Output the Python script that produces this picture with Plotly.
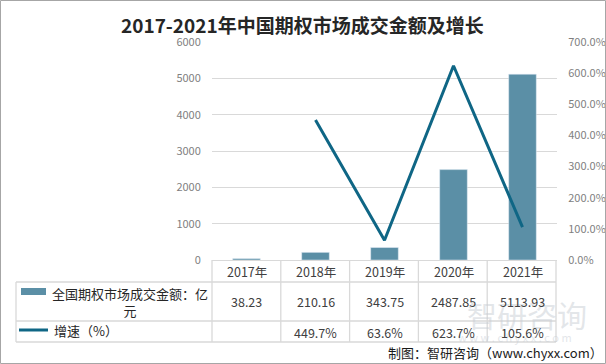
import plotly.graph_objects as go

# ---- data ----
years = ["2017年", "2018年", "2019年", "2020年", "2021年"]
amount = [38.23, 210.16, 343.75, 2487.85, 5113.93]
growth = [None, 449.7, 63.6, 623.7, 105.6]
bar_name = "全国期权市场成交金额：亿元"
line_name = "增速（%）"
title = "2017-2021年中国期权市场成交金额及增长"
source = "制图：智研咨询（www.chyxx.com）"

W, H = 606, 364
L, R, T, B = 212, 557, 42, 260
BAR_C = "#5b8fa6"
LINE_C = "#0f6685"
GRID_C = "#d9d9d9"
TXT_C = "#404040"
FONT = "Noto Sans CJK SC"


def px(X):
    return (X - L) / (R - L)


def py(Y):
    return (B - Y) / (B - T)


fig = go.Figure()
fig.add_trace(go.Bar(x=years, y=amount, name=bar_name, marker_color=BAR_C,
                     width=0.4, yaxis="y"))
fig.add_trace(go.Scatter(x=years, y=growth, name=line_name, mode="lines",
                         line=dict(color=LINE_C, width=3), yaxis="y2",
                         connectgaps=False))

shapes = []
annotations = []


def ann(text, X, Y, size, color, xanchor="center", xref="paper", font=FONT, align="center"):
    annotations.append(dict(text=text, x=(px(X) if xref == "paper" else X), xref=xref,
                            y=py(Y), yref="paper", xanchor=xanchor, yanchor="middle",
                            showarrow=False, align=align,
                            font=dict(family=font, size=size, color=color)))


# watermark
ann("智研咨询", 527, 314, 30, "rgba(200,205,212,0.5)")
ann("w w w . c h y x x . c o m", 515, 337, 11, "rgba(200,205,212,0.5)")


# table lines
def hline(Y, x0, x1):
    shapes.append(dict(type="line", xref="paper", yref="paper", x0=px(x0), x1=px(x1),
                       y0=py(Y), y1=py(Y), line=dict(color=GRID_C, width=1.3), layer="above"))


def vline(X, y0, y1):
    shapes.append(dict(type="line", xref="paper", yref="paper", x0=px(X), x1=px(X),
                       y0=py(y0), y1=py(y1), line=dict(color=GRID_C, width=1.3), layer="above"))


for Y in (282, 321, 342):
    hline(Y, 16, 556)
vline(16, 282, 342)
n = len(years)
for i in range(n + 1):
    X = L + (R - 1 - L) * i / n
    vline(X, 260, 342)

# table text
for i, yr in enumerate(years):
    ann(yr, i, 271, 12.5, TXT_C, xref="x")
    ann(f"{amount[i]:.2f}", i, 301, 12.5, TXT_C, xref="x")
    if growth[i] is not None:
        ann(f"{growth[i]:.1f}%", i, 332, 12.5, TXT_C, xref="x")

# legend cells
shapes.append(dict(type="rect", xref="paper", yref="paper", x0=px(21), x1=px(46), y0=py(288), y1=py(295),
                   fillcolor=BAR_C, line=dict(width=0), layer="above"))
shapes.append(dict(type="line", xref="paper", yref="paper", x0=px(19), x1=px(48), y0=py(330), y1=py(330),
                   line=dict(color=LINE_C, width=3), layer="above"))
ann(bar_name[:-1] + "<br>" + bar_name[-1], 129.5, 302, 13, "#262626")
ann(line_name, 52, 330, 13, "#262626", xanchor="left")

# title & source
ann(f"<b>{title}</b>", 302, 25, 19, "#262626")
ann(source, 605, 352, 13, "#1a1a1a", xanchor="right")

# outer border
shapes.append(dict(type="rect", xref="paper", yref="paper", x0=px(0.5), x1=px(605.5), y0=py(0.5), y1=py(363.5),
                   line=dict(color="#a6a6a6", width=1), layer="above"))

fig.update_layout(
    width=W, height=H,
    margin=dict(l=L, r=W - R, t=T, b=H - B, autoexpand=False),
    paper_bgcolor="white", plot_bgcolor="white",
    showlegend=False,
    xaxis=dict(type="category", showticklabels=False, showgrid=False, ticks="",
               showline=False, range=[-0.5, n - 0.5], automargin=False),
    yaxis=dict(range=[0, 6000], dtick=1000, showgrid=True, gridcolor=GRID_C, gridwidth=1.3,
               zeroline=True, zerolinecolor=GRID_C, zerolinewidth=1.3, automargin=False,
               ticks="outside", ticklen=8, tickcolor="rgba(0,0,0,0)",
               tickfont=dict(family=FONT, size=11, color="#7f7f7f")),
    yaxis2=dict(range=[0, 700], dtick=100, overlaying="y", side="right", showgrid=False,
                zeroline=False, tickformat=".1f", ticksuffix="%", automargin=False,
                ticks="outside", ticklen=8, tickcolor="rgba(0,0,0,0)",
                tickfont=dict(family=FONT, size=11, color="#7f7f7f")),
    shapes=shapes,
    annotations=annotations,
)

fig.write_html("out.html")
